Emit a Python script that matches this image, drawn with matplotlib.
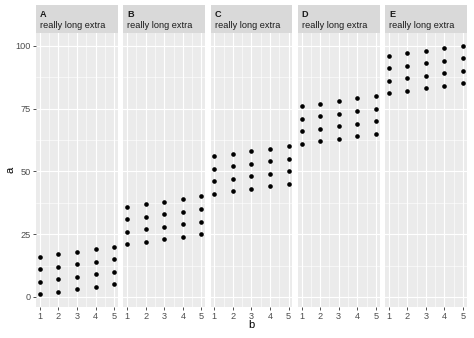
import matplotlib
matplotlib.use("Agg")
import matplotlib.pyplot as plt

plt.rcParams['font.family'] = ['Liberation Sans', 'DejaVu Sans']

facets = ['A', 'B', 'C', 'D', 'E']
strip_sub = 'really long extra'
b_vals = [1, 2, 3, 4, 5, 1, 2, 3, 4, 5, 1, 2, 3, 4, 5, 1, 2, 3, 4, 5]
a_vals = {
    'A': [1, 2, 3, 4, 5, 6, 7, 8, 9, 10, 11, 12, 13, 14, 15, 16, 17, 18, 19, 20],
    'B': [21, 22, 23, 24, 25, 26, 27, 28, 29, 30, 31, 32, 33, 34, 35, 36, 37, 38, 39, 40],
    'C': [41, 42, 43, 44, 45, 46, 47, 48, 49, 50, 51, 52, 53, 54, 55, 56, 57, 58, 59, 60],
    'D': [61, 62, 63, 64, 65, 66, 67, 68, 69, 70, 71, 72, 73, 74, 75, 76, 77, 78, 79, 80],
    'E': [81, 82, 83, 84, 85, 86, 87, 88, 89, 90, 91, 92, 93, 94, 95, 96, 97, 98, 99, 100],
}
x_ticks = [1, 2, 3, 4, 5]
y_ticks = [0, 25, 50, 75, 100]

W, H = 474, 338
fig = plt.figure(figsize=(W / 100, H / 100), dpi=100)

def px(x0, y0, w, h):
    # pixel box (top-left origin) -> figure fraction
    return [x0 / W, 1 - (y0 + h) / H, w / W, h / H]

pw, gap = 81.7, 5.5
left0 = 36.2
ptop, pbot = 33.3, 306.9
stop = 5.0
fs = 6.6

for i, f in enumerate(facets):
    x0 = left0 + i * (pw + gap)
    ax = fig.add_axes(px(x0, ptop, pw, pbot - ptop))
    ax.set_facecolor('#EBEBEB')
    for s in ax.spines.values():
        s.set_visible(False)
    ax.set_xlim(0.8, 5.2)
    ax.set_ylim(-3.95, 104.95)
    ax.set_xticks(x_ticks)
    ax.set_yticks(y_ticks)
    ax.set_xticks([1.5, 2.5, 3.5, 4.5], minor=True)
    ax.set_yticks([12.5, 37.5, 62.5, 87.5], minor=True)
    ax.grid(True, which='major', color='white', linewidth=0.8)
    ax.grid(True, which='minor', color='white', linewidth=0.4)
    ax.set_axisbelow(True)
    ax.tick_params(which='minor', length=0)
    ax.tick_params(which='major', length=2.5, width=0.6, color='#333333',
                   labelcolor='#4D4D4D', labelsize=fs, pad=1.5)
    ax.set_xticklabels([str(t) for t in x_ticks])
    if i == 0:
        ax.set_yticklabels([str(t) for t in y_ticks])
    else:
        ax.tick_params(axis='y', left=False, labelleft=False)
    ax.scatter(b_vals, a_vals[f], s=11, color='black', linewidths=0, zorder=3)

    sax = fig.add_axes(px(x0, stop, pw, ptop - stop))
    sax.set_facecolor('#D9D9D9')
    sax.set_xticks([])
    sax.set_yticks([])
    for s in sax.spines.values():
        s.set_visible(False)
    sax.text(4.0 / pw, 0.68, f, transform=sax.transAxes, fontsize=fs,
             fontweight='bold', color='#1A1A1A', ha='left', va='center')
    sax.text(4.0 / pw, 0.28, strip_sub, transform=sax.transAxes, fontsize=fs,
             color='#1A1A1A', ha='left', va='center')

fig.text(251 / W, 1 - 325 / H, 'b', fontsize=8, color='black', ha='center', va='center')
fig.text(10 / W, 1 - 170 / H, 'a', fontsize=8, color='black', ha='center', va='center',
         rotation=90)

fig.savefig('out.png', dpi=100)
